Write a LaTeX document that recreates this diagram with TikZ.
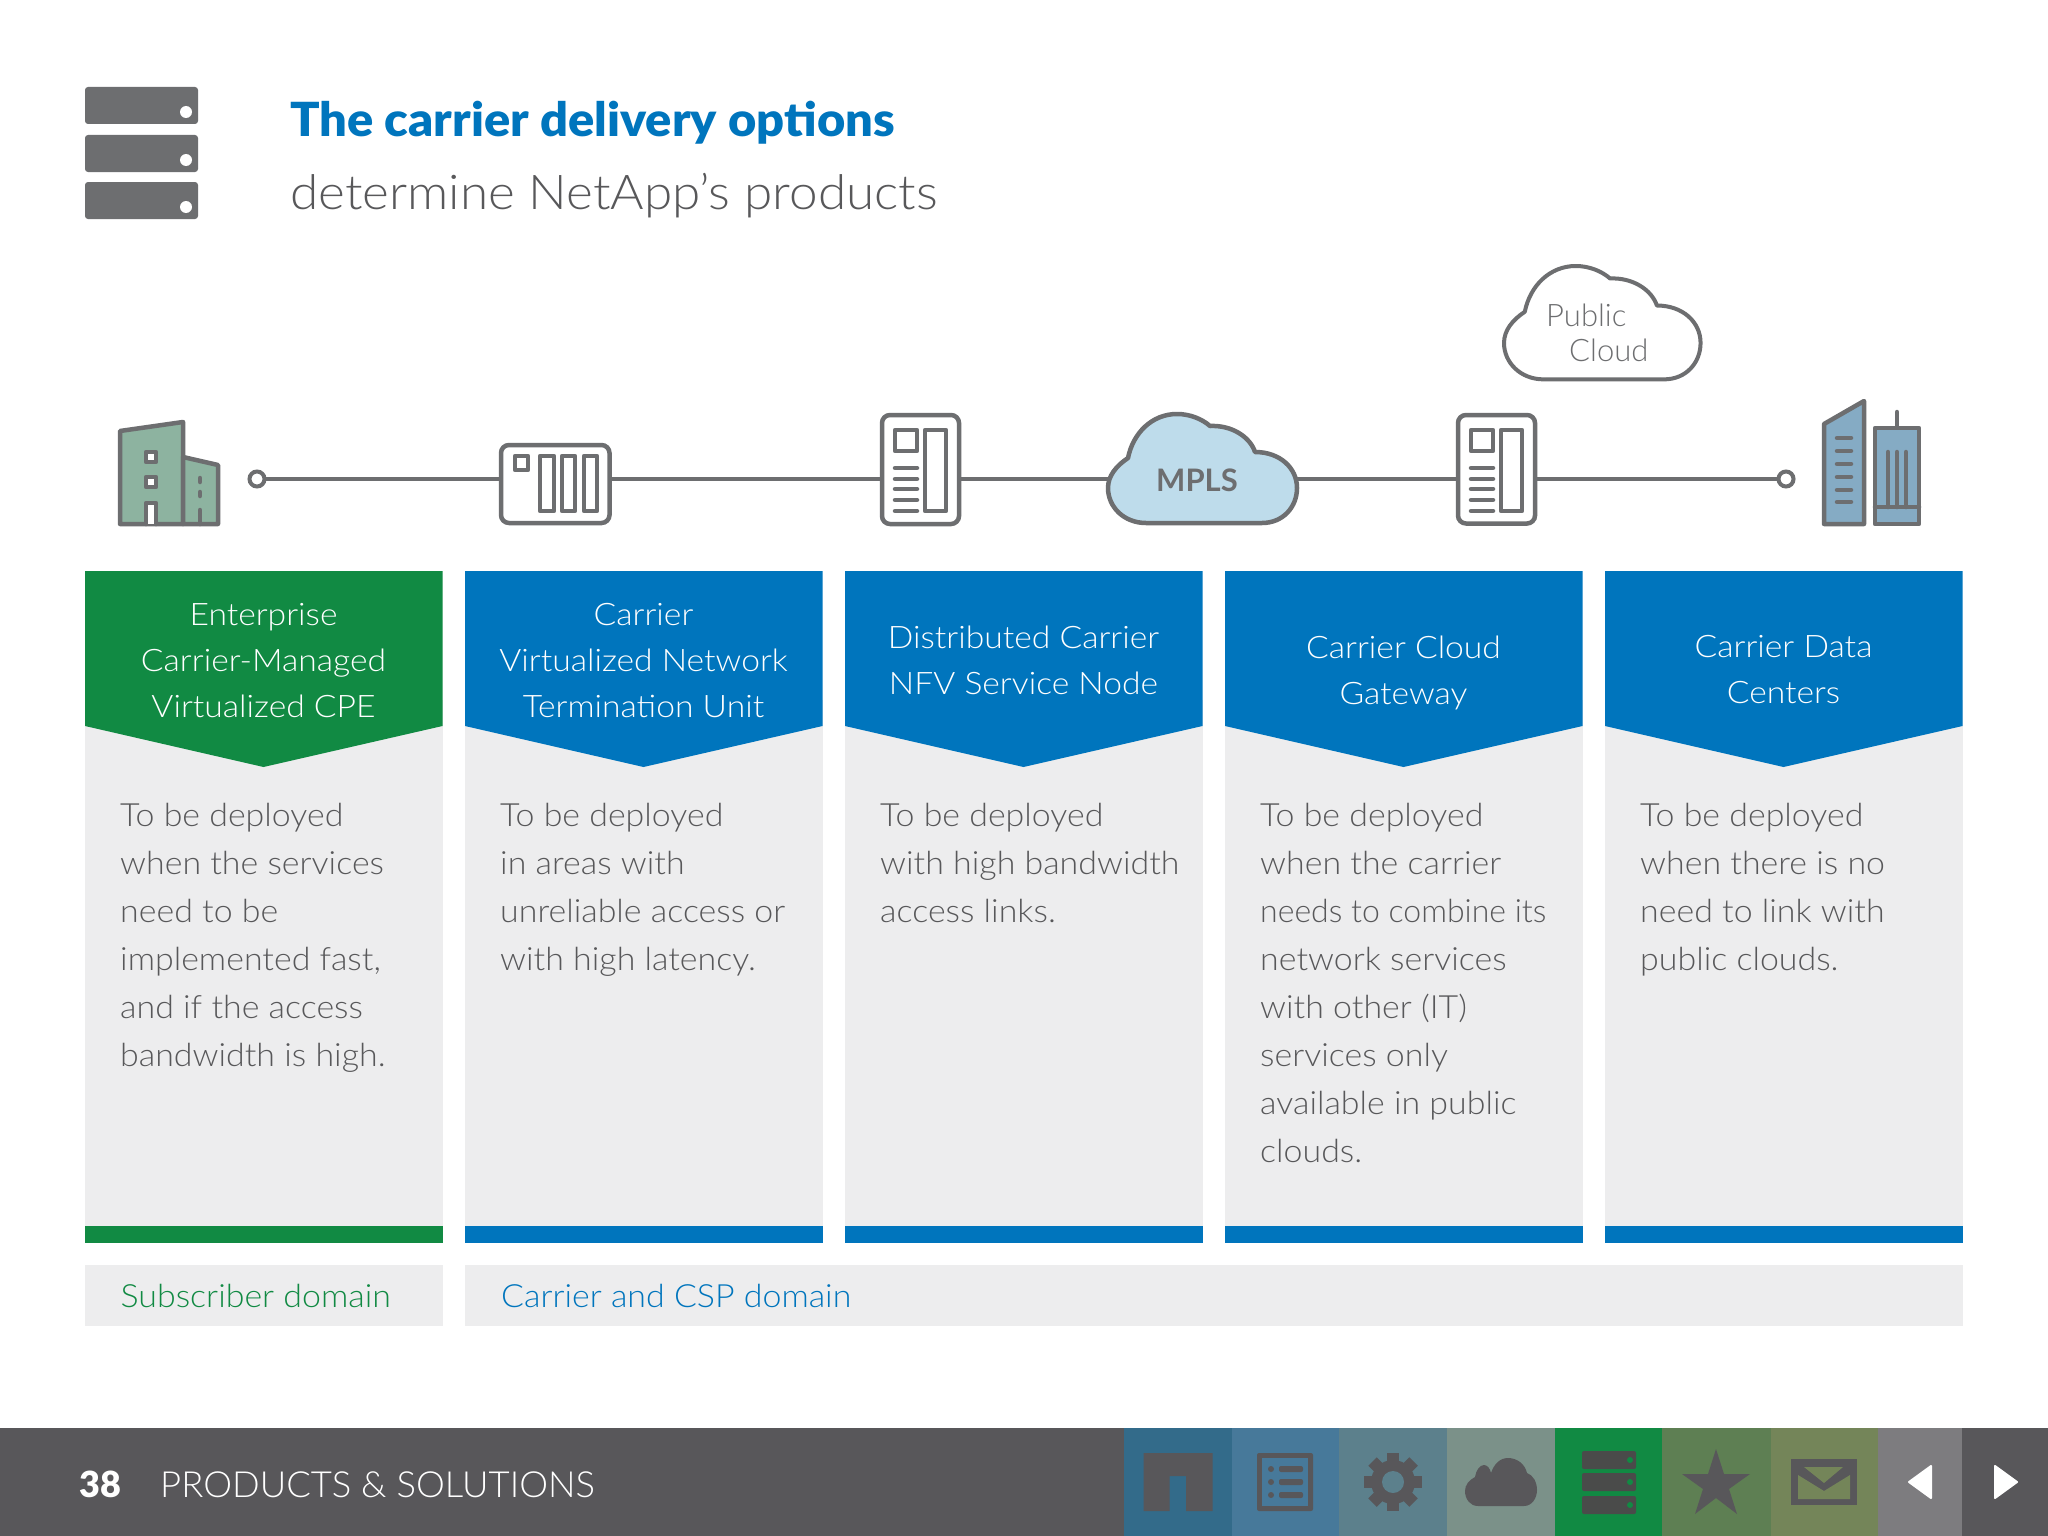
\documentclass[tikz,border=0pt]{standalone}
\usepackage{fontspec}
\setmainfont{Lato Light}[FakeStretch=1.06]
\newfontfamily\fhead{Lato Light}[FakeStretch=1.085]
\newfontfamily\fsub{Lato Light}[FakeStretch=1.067]
\newfontfamily\ffoot{Lato Light}[FakeStretch=1.012]
\newfontfamily\fplain{Lato Light}
\newfontfamily\fnormal{Lato Bold}
\newfontfamily\ftitle{Lato Black}[FakeStretch=1.038]
\newfontfamily\fpage{Lato Black}
\definecolor{netblue}{HTML}{0075BD}
\definecolor{netgreen}{HTML}{118A43}
\definecolor{panel}{HTML}{EDEDEE}
\definecolor{ink}{HTML}{58585A}
\definecolor{wire}{HTML}{6D6E70}
\definecolor{foot}{HTML}{58575A}
\definecolor{footdark}{HTML}{4A4B4A}
\definecolor{bldgreen}{HTML}{8DB3A0}
\definecolor{bldblue}{HTML}{85ABC4}
\definecolor{cloudblue}{HTML}{BEDCEB}
\newcommand{\cloudoutline}{(38,109) -- (154,109) .. controls (175,109) and (189,93) .. (189,74) .. controls (189,54) and (172,38) .. (147,38) .. controls (142,23) and (124,11) .. (102,12) .. controls (94,5) and (82,0) .. (69,0) .. controls (44,0) and (25,19) .. (20,44) .. controls (8,52) and (0,62) .. (0,74) .. controls (0,93) and (16,109) .. (38,109) -- cycle}
\tikzset{
  ln/.style={draw=wire,line width=4.5pt,line join=round,line cap=round},
  wireline/.style={draw=wire,line width=4.5pt},
  device/.style={draw=wire,fill=white,line width=4.5pt,rounded corners=8pt,inner sep=0pt,outer sep=0pt,anchor=north west},
  endpt/.style={circle,draw=wire,fill=white,line width=4pt,minimum size=15pt,inner sep=0pt,outer sep=0pt},
  coltitle/.style={text=white,align=center,font=\fhead\fontsize{31}{46}\selectfont},
  coltext/.style={text=ink,align=left,anchor=north west,inner sep=0pt,font=\fontsize{32}{48}\selectfont},
  domaintext/.style={anchor=base west,inner sep=0pt,font=\fontsize{32}{38}\selectfont},
  foottext/.style={text=white,anchor=base west,inner sep=0pt},
}
\begin{document}
\begin{tikzpicture}[x=1pt,y=-1pt]
\useasboundingbox (0,0) rectangle (2048,1536);
\fill[white] (0,0) rectangle (2048,1536);

% title icon
\foreach \y in {87,135,182}{
  \fill[wire,rounded corners=3pt] (85,\y) rectangle (198,\y+37);
  \fill[white] (186,\y+25) circle (6);
}
\node[anchor=base west,inner sep=0pt,text=netblue,font=\ftitle\fontsize{47}{50}\selectfont] (title) at (290,137) {The carrier delivery options};
\node[anchor=base west,inner sep=0pt,text=ink,font=\fsub\fontsize{48}{50}\selectfont] (subtitle) at (290,209) {determine NetApp’s products};

% columns
\foreach \x/\c in {85/netgreen,465/netblue,845/netblue,1225/netblue,1605/netblue}{
  \fill[panel] (\x,700) rectangle (\x+357.5,1226);
  \fill[\c] (\x,571) -- (\x+357.5,571) -- (\x+357.5,726) -- (\x+178.5,767) -- (\x,726) -- cycle;
  \fill[\c] (\x,1226) rectangle (\x+357.5,1243);
}
\node[coltitle] (h1) at (263.5,661) {Enterprise\\Carrier-Managed\\Virtualized CPE};
\node[coltitle] (h2) at (643.5,661) {Carrier\\Virtualized Network\\Termination Unit};
\node[coltitle] (h3) at (1023.5,660) {Distributed Carrier\\NFV Service Node};
\node[coltitle] (h4) at (1403.5,672.5) {Carrier Cloud\\Gateway};
\node[coltitle] (h5) at (1783.5,670) {Carrier Data\\Centers};

\node[coltext] (b1) at (120,803.5) {To be deployed\\when the services\\need to be\\implemented fast,\\and if the access\\bandwidth is high.};
\node[coltext] (b2) at (500,803.5) {To be deployed\\in areas with\\unreliable access or\\with high latency.};
\node[coltext] (b3) at (880,803.5) {To be deployed\\with high bandwidth\\access links.};
\node[coltext] (b4) at (1260,803.5) {To be deployed\\when the carrier\\{\fplain needs to combine its}\\network services\\with other (IT)\\services only\\available in public\\clouds.};
\node[coltext] (b5) at (1640,803.5) {To be deployed\\when there is no\\need to link with\\public clouds.};

% domains
\fill[panel] (85,1265) rectangle (442.5,1326);
\fill[panel] (465,1265) rectangle (1963,1326);
\node[domaintext,text=netgreen] (d1) at (120.5,1307) {Subscriber domain};
\node[domaintext,text=netblue] (d2) at (501,1307) {Carrier and CSP domain};

% green building
\draw[ln,fill=bldgreen] (120,431) -- (183,422) -- (183,524) -- (120,524) -- cycle;
\draw[ln,fill=bldgreen] (183,457) -- (218,465) -- (218,524) -- (183,524) -- cycle;
\draw[ln,fill=white] (146,452) rectangle (156,462);
\draw[ln,fill=white] (146,477) rectangle (156,487);
\draw[ln,fill=white] (146,524) -- (146,503) -- (156,503) -- (156,524);
\draw[ln] (200,478) -- (200,482) (200,492) -- (200,496) (200,510) -- (200,524);

% public cloud and mpls cloud
\draw[wire,fill=white,line width=4pt,line join=round,shift={(1504,266)},scale=1.04] \cloudoutline;
\node[anchor=base west,inner sep=0pt,text=wire,font=\fplain\fontsize{31}{36}\selectfont] (pub1) at (1546,326) {Public};
\node[anchor=base west,inner sep=0pt,text=wire,font=\fplain\fontsize{31}{36}\selectfont] (pub2) at (1569,361) {Cloud};
\draw[ln,fill=cloudblue,shift={(1108,414)}] \cloudoutline;
\node[text=wire,inner sep=0pt,anchor=base,font=\fnormal\fontsize{31}{36}\selectfont] (mpls) at (1197,491) {MPLS};
\coordinate (mplsW) at (1109,479);
\coordinate (mplsE) at (1296,479);

% devices
\node[endpt] (endL) at (257,479) {};
\node[endpt] (endR) at (1786,479) {};
\node[device,minimum width=108.5pt,minimum height=78pt] (ntu) at (501,445) {};
\node[device,minimum width=77pt,minimum height=109pt] (gw1) at (882,415) {};
\node[device,minimum width=77pt,minimum height=108.5pt] (gw2) at (1458,415) {};

% ntu inner
\draw[ln] (515,456) rectangle (528,470);
\draw[ln] (540,456) rectangle (554,511);
\draw[ln] (562,456) rectangle (575,511);
\draw[ln] (584,456) rectangle (597,511);
% gateway inner
\foreach \dx in {0,576}{
  \draw[ln] (895+\dx,430) rectangle (917+\dx,451);
  \draw[ln] (925+\dx,430) rectangle (946+\dx,511);
  \foreach \y in {468,479,489,500,511}
    \draw[ln] (895+\dx,\y) -- (917+\dx,\y);
}

% connectors
\draw[wireline] (endL) -- (ntu.west |- endL);
\draw[wireline] (ntu.east |- endL) -- (gw1.west |- endL);
\draw[wireline] (gw1.east |- endL) -- (mplsW);
\draw[wireline] (mplsE) -- (gw2.west |- endL);
\draw[wireline] (gw2.east |- endL) -- (endR);

% blue buildings
\draw[ln,fill=bldblue] (1824,424) -- (1864,401) -- (1864,524) -- (1824,524) -- cycle;
\foreach \y in {438,451,464,477,490,502}
  \draw[ln] (1837,\y) -- (1851,\y);
\draw[ln] (1897,412) -- (1897,428);
\draw[ln,fill=bldblue] (1875,428) rectangle (1919,524);
\draw[ln] (1875,507) -- (1919,507);
\draw[ln] (1888,452) -- (1888,507) (1897,452) -- (1897,507) (1906,452) -- (1906,507);

% footer
\fill[foot] (0,1428) rectangle (2048,1536);
\foreach \xa/\xb/\c in {1124/1232/336B8A,1232/1339/47799A,1339/1447/5C808C,1447/1555/7B9189,1555/1662/118A43,1662/1770.5/5E7F53,1770.5/1877.5/748559,1877.5/1962/7D7C7F}{
  \definecolor{blk}{HTML}{\c}
  \fill[blk] (\xa,1428) rectangle (\xb,1536);
}
\node[foottext,font=\fpage\fontsize{36}{40}\selectfont] (pg) at (79.5,1497) {38};
\node[foottext,font=\ffoot\fontsize{36}{40}\selectfont] (sect) at (160,1497) {PRODUCTS \& SOLUTIONS};

% footer icons
\fill[foot] (1143.5,1453) -- (1212.5,1453) -- (1212.5,1511) -- (1186,1511) -- (1186,1476) -- (1169.5,1476) -- (1169.5,1511) -- (1143.5,1511) -- cycle;
\fill[foot,rounded corners=2pt] (1257,1453) rectangle (1313,1511);
\definecolor{blk}{HTML}{47799A}
\fill[blk] (1262,1458) rectangle (1308,1506);
\foreach \y in {1469,1482,1495}{
  \fill[foot] (1271,\y) circle (3);
  \fill[foot,rounded corners=2pt] (1279,\y-3) rectangle (1303,\y+3);
}
\fill[foot] (1393,1482) circle (22);
\foreach \a in {0,45,...,315}
  \fill[foot,rotate around={\a:(1393,1482)}] (1387,1453) rectangle (1399,1470);
\definecolor{blk}{HTML}{5C808C}
\fill[blk] (1393,1482) circle (11);
\fill[foot] (1478,1506) -- (1524,1506) .. controls (1532,1506) and (1537,1498) .. (1537,1490) .. controls (1537,1482) and (1533,1475) .. (1527,1473) .. controls (1525,1464) and (1517,1458) .. (1508,1458) .. controls (1500,1458) and (1494,1464) .. (1491,1473) .. controls (1490,1468) and (1487,1465) .. (1484,1465) .. controls (1480,1465) and (1476,1470) .. (1475,1477) .. controls (1469,1480) and (1465,1485) .. (1465,1491) .. controls (1465,1499) and (1470,1506) .. (1478,1506) -- cycle;
\foreach \y in {1451,1473,1496}{
  \fill[footdark,rounded corners=2pt] (1582,\y) rectangle (1636,\y+18);
  \fill[netgreen] (1630,\y+9) circle (3);
}
\fill[foot] (1716,1449) -- (1724,1474) -- (1750,1474) -- (1729,1489) -- (1737,1514) -- (1716,1498) -- (1695,1514) -- (1703,1489) -- (1682,1474) -- (1708,1474) -- cycle;
\fill[foot] (1791,1459) rectangle (1857,1505);
\definecolor{blk}{HTML}{748559}
\fill[blk] (1804,1467) -- (1843,1467) -- (1824,1483) -- cycle;
\fill[blk] (1798,1475) -- (1824,1491) -- (1850,1475) -- (1850,1499) -- (1798,1499) -- cycle;
\fill[white,draw=white,line width=2pt,line join=round] (1931,1466) -- (1931,1498) -- (1909,1482) -- cycle;
\fill[white,draw=white,line width=2pt,line join=round] (1995,1466) -- (1995,1498) -- (2017,1482) -- cycle;
\end{tikzpicture}
\end{document}
